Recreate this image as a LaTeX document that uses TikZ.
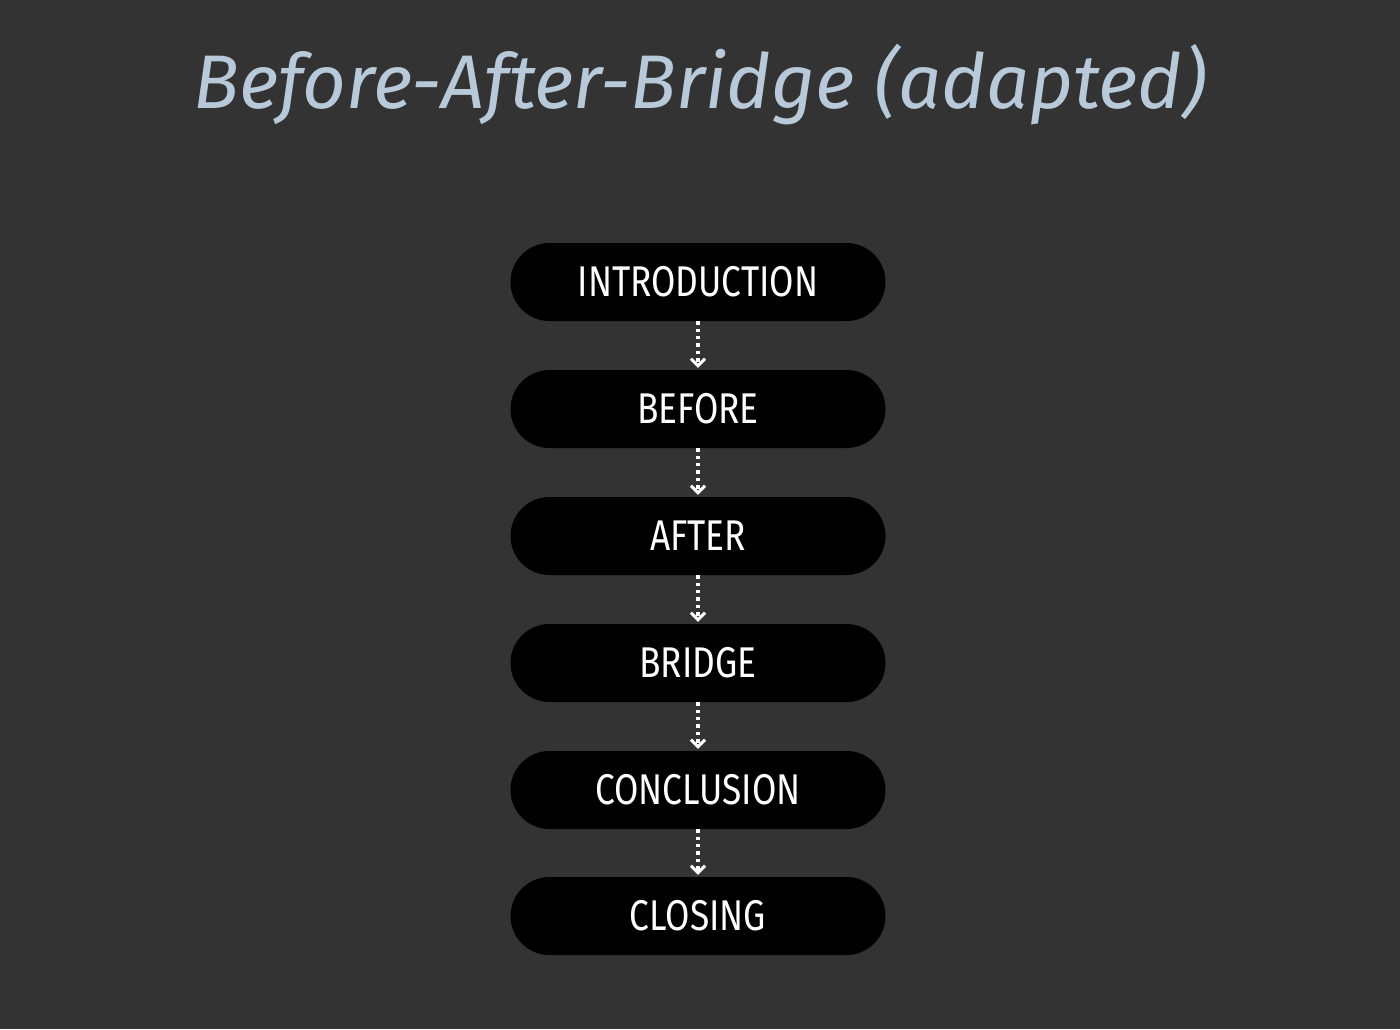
\documentclass[tikz,border=0pt]{standalone}
\usepackage{fontspec}
\usetikzlibrary{arrows.meta}
\newfontfamily\boxfont[FakeStretch=0.82]{Fira Sans}
\newfontfamily\titlefont{Fira Sans}
\definecolor{bgc}{RGB}{51,51,51}
\definecolor{titlec}{RGB}{184,202,218}
\tikzset{
  stage/.style={fill=black, rounded corners=39pt, minimum width=375pt, minimum height=78pt,
    text=white, font=\boxfont\fontsize{43}{43}\selectfont, inner sep=0pt},
  flow/.style={white, line width=3.4pt, dash pattern=on 3.4pt off 4pt,
    -{Straight Barb[length=7pt,width=14pt,line width=3pt]}}
}
\begin{document}
\begin{tikzpicture}[x=1pt,y=-1pt]
\fill[bgc] (0,0) rectangle (1400,1029);
\useasboundingbox (0,0) rectangle (1400,1029);
\node[text=titlec, font=\titlefont\itshape\fontsize{76}{76}\selectfont, anchor=base] (title) at (700,108) {Before-After-Bridge (adapted)};
\node[stage] (n1) at (698,282) {INTRODUCTION};
\node[stage] (n2) at (698,409) {BEFORE};
\node[stage] (n3) at (698,536) {AFTER};
\node[stage] (n4) at (698,663) {BRIDGE};
\node[stage] (n5) at (698,790) {CONCLUSION};
\node[stage] (n6) at (698,916) {CLOSING};
\foreach \a/\b in {n1/n2,n2/n3,n3/n4,n4/n5,n5/n6}
  \draw[flow, shorten >=2pt] (\a.south) -- (\b.north);
\end{tikzpicture}
\end{document}
